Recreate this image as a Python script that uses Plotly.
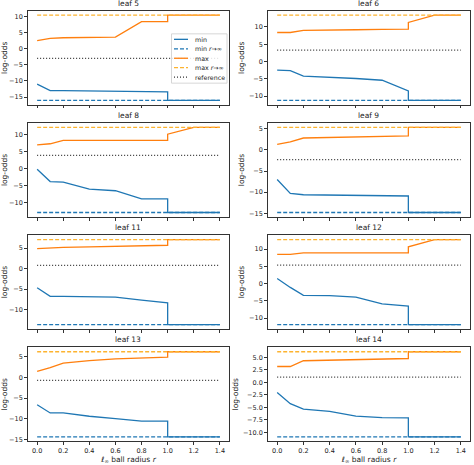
import plotly.graph_objects as go
from plotly.subplots import make_subplots

# ---------------- data ----------------
radius = [0, 0.1, 0.2, 0.4, 0.6, 0.8, 1.0, 1.0, 1.2, 1.4]
leaves = ["leaf 5", "leaf 6", "leaf 8", "leaf 9", "leaf 11", "leaf 12", "leaf 13", "leaf 14"]

min_vals = [
    [-11.0, -13.0, -13.0, -13.1, -13.4, -13.4, -13.4, -16.0, -16.0, -16.0],
    [-2.5, -2.6, -4.2, -4.5, -4.9, -5.4, -8.5, -11.2, -11.2, -11.2],
    [-0.3, -3.9, -4.1, -6.1, -6.6, -9.0, -9.0, -13.0, -13.0, -13.0],
    [-7.0, -10.3, -10.6, -10.7, -10.8, -10.9, -10.9, -14.8, -14.8, -14.8],
    [-4.7, -6.8, -6.8, -6.9, -7.0, -7.7, -8.4, -13.7, -13.7, -13.7],
    [1.5, -1.1, -3.4, -3.5, -3.9, -5.9, -6.5, -11.9, -11.9, -11.9],
    [-6.6, -8.6, -8.6, -9.4, -10.0, -10.6, -10.6, -14.4, -14.4, -14.4],
    [-2.0, -4.25, -5.35, -5.8, -6.75, -7.05, -7.1, -10.9, -10.9, -10.9],
]
max_vals = [
    [2.5, 3.2, 3.4, 3.5, 3.6, 8.4, 8.4, 10.4, 10.4, 10.4],
    [8.4, 8.4, 9.0, 9.0, 9.2, 9.3, 9.4, 11.3, 13.4, 13.4],
    [6.9, 7.2, 8.2, 8.2, 8.2, 8.2, 8.2, 10.0, 12.0, 12.0],
    [1.3, 1.9, 2.8, 2.9, 3.1, 3.2, 3.3, 5.3, 5.3, 5.3],
    [4.9, 5.1, 5.2, 5.3, 5.4, 5.6, 5.7, 7.1, 7.1, 7.1],
    [8.5, 8.5, 8.9, 8.9, 8.9, 8.9, 8.9, 10.7, 12.8, 12.8],
    [1.5, 2.4, 3.5, 4.1, 4.5, 4.7, 4.95, 6.25, 6.25, 6.25],
    [3.2, 3.2, 4.35, 4.45, 4.6, 4.7, 4.8, 6.15, 6.15, 6.15],
]
min_inf = [-16.0, -11.2, -13.0, -14.8, -13.7, -11.9, -14.4, -10.9]
max_inf = [10.4, 13.4, 12.0, 5.3, 7.1, 12.8, 6.25, 6.15]
reference = [-3.0, 3.3, 3.8, -2.3, 0.8, 5.4, -0.7, 1.05]
ytick_steps = [5, 5, 5, 5, 5, 5, 5, 2.5]
ytick_formats = ["d", "d", "d", "d", "d", "d", "d", ".1f"]
xticks = [0.0, 0.2, 0.4, 0.6, 0.8, 1.0, 1.2, 1.4]
series_labels = ["min", "min <i>r</i>→∞", "max", "max <i>r</i>→∞", "reference"]

# ---------------- styling ----------------
W, H = 474, 465
FONT = "DejaVu Sans"
TXT = "#222222"
AX = "#333333"
series_styles = [
    dict(color="#1f77b4", width=1.3),
    dict(color="#1f77b4", width=1.3, dash="4px,2px"),
    dict(color="#ff7f0e", width=1.3),
    dict(color="#fdb32f", width=1.3, dash="4px,2px"),
    dict(color="#333333", width=1.3, dash="1px,2px"),
]

col_px = [(28, 229), (268, 470)]
row_top_px = [11, 123.7, 236.3, 349]
row_h = 94

fig = make_subplots(rows=4, cols=2)

r_span = [radius[0], radius[-1]]
for i, name in enumerate(leaves):
    r, c = i // 2 + 1, i % 2 + 1
    ys = [min_vals[i], [min_inf[i]] * 2, max_vals[i], [max_inf[i]] * 2, [reference[i]] * 2]
    xs = [radius, r_span, radius, r_span, r_span]
    for k in range(5):
        fig.add_trace(go.Scatter(x=xs[k], y=ys[k], mode="lines", name=series_labels[k],
                                 line=series_styles[k], showlegend=False), row=r, col=c)

    lo = min(min(min_vals[i]), min_inf[i], reference[i])
    hi = max(max(max_vals[i]), max_inf[i], reference[i])
    pad = 0.05 * (hi - lo)

    x0, x1 = col_px[c - 1]
    top = row_top_px[r - 1]
    bot = top + row_h
    xd = [x0 / W, x1 / W]
    yd = [1 - bot / H, 1 - top / H]

    axn = "" if i == 0 else str(i + 1)
    xa = dict(
        domain=xd, range=[-0.07, 1.47], tickvals=xticks, tickformat=".1f",
        showticklabels=(r == 4), ticks="outside", ticklen=3, tickwidth=0.8, tickcolor=AX,
        showline=True, mirror=True, linecolor=AX, linewidth=0.8, showgrid=False, zeroline=False,
        tickfont=dict(family=FONT, size=6.5, color=TXT),
    )
    if r == 4:
        xa["title"] = dict(text="<i>ℓ</i><sub>∞</sub> ball radius <i>r</i>",
                           font=dict(family=FONT, size=7.5, color=TXT), standoff=2)
    fig.layout["xaxis" + axn].update(**xa)
    fig.layout["yaxis" + axn].update(
        domain=yd, range=[lo - pad, hi + pad], dtick=ytick_steps[i], tick0=0,
        tickformat=ytick_formats[i],
        ticks="outside", ticklen=3, tickwidth=0.8, tickcolor=AX,
        showline=True, mirror=True, linecolor=AX, linewidth=0.8, showgrid=False, zeroline=False,
        tickfont=dict(family=FONT, size=6.5, color=TXT),
        title=dict(text="log-odds", font=dict(family=FONT, size=7.5, color=TXT), standoff=3),
    )
    fig.add_annotation(text=name, x=(xd[0] + xd[1]) / 2, y=yd[1], xref="paper", yref="paper",
                       xanchor="center", yanchor="bottom", yshift=1, showarrow=False,
                       font=dict(family=FONT, size=7.5, color=TXT))

# ---- legend box (matplotlib style) inside the first panel ----
lg_left, lg_right, lg_top, lg_bot = 171.5, 227, 34, 83.5
fig.add_shape(type="rect", xref="paper", yref="paper",
              x0=lg_left / W, x1=lg_right / W, y0=1 - lg_bot / H, y1=1 - lg_top / H,
              line=dict(color="#cccccc", width=0.8), fillcolor="rgba(255,255,255,0.85)", layer="above")
for k, lab in enumerate(series_labels):
    yc = 39.5 + k * 9.5
    sty = dict(series_styles[k])
    fig.add_shape(type="line", xref="paper", yref="paper",
                  x0=174 / W, x1=188 / W, y0=1 - yc / H, y1=1 - yc / H,
                  line=sty, layer="above")
    fig.add_annotation(text=lab, x=192.5 / W, y=1 - yc / H, xref="paper", yref="paper",
                       xanchor="left", yanchor="middle", showarrow=False,
                       font=dict(family=FONT, size=6.3, color=TXT))

fig.update_layout(
    width=W, height=H,
    margin=dict(l=0, r=0, t=0, b=0),
    plot_bgcolor="white", paper_bgcolor="white",
    font=dict(family=FONT, color=TXT),
    showlegend=False,
)

fig.write_html("out.html")
